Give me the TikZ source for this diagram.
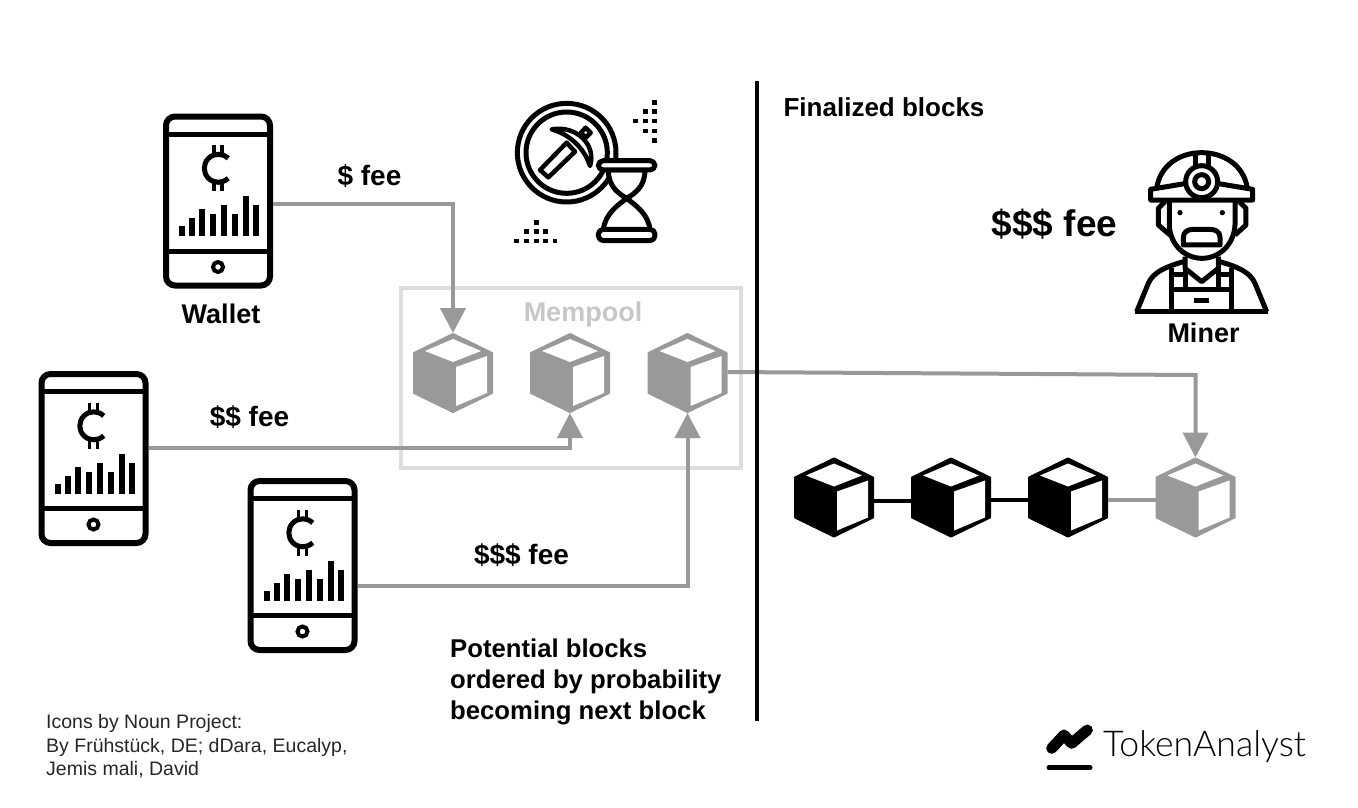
\documentclass[tikz,border=0pt]{standalone}
\usepackage{fontspec}
\setmainfont{Liberation Sans}
\newfontfamily\logofont{Lato Light}
\usepackage{xcolor}
\usetikzlibrary{arrows.meta, positioning, calc}
\definecolor{feegray}{HTML}{999999}
\definecolor{poolgray}{HTML}{DDDDDD}
\tikzstyle{blockbox} = [rectangle, minimum width=80pt, minimum height=80pt, inner sep=0pt, outer sep=0pt]
\tikzstyle{phonebox} = [rectangle, rounded corners=9pt, minimum width=104pt, minimum height=169pt, line width=6pt, draw=black]
\tikzstyle{feeline} = [line width=4pt, draw=feegray]
\tikzstyle{arrow} = [feeline, -{Triangle[width=25pt,length=25pt]}]
\tikzstyle{chainline} = [line width=4pt, draw=black]
\tikzstyle{bigtext} = [font=\fontsize{26}{31}\selectfont\bfseries, inner sep=0pt, align=left]
\tikzstyle{feetext} = [font=\fontsize{28}{31}\selectfont\bfseries, inner sep=0pt]
\tikzstyle{icon} = [line width=5pt, draw=black, line join=round]

% block icon: name, colour, x, y
\newcommand{\blockicon}[4]{
  \node (#1) [blockbox] at (#3,#4) {};
  \begin{scope}[shift={(#3,#4)}]
    \filldraw [#2, line width=2pt, line join=round] (0,-39) -- (39,-20) -- (39,20) -- (0,39) -- (-39,20) -- (-39,-20) -- cycle;
    \fill [white] (0,-34) -- (28,-22) -- (0,-11) -- (-28,-22) -- cycle;
    \fill [white] (3,-6) -- (34,-17) -- (34,20) -- (3,33) -- cycle;
  \end{scope}
}
% phone icon: name, x, y
\newcommand{\phoneicon}[3]{
  \node (#1) [phonebox] at (#2,#3) {};
  \begin{scope}[shift={(#2,#3)}]
    \draw [line width=5pt] (-52,-67) -- (52,-67);
    \draw [line width=5pt] (-52,50) -- (52,50);
    \draw [line width=4pt] (0,66) circle [radius=5];
    \draw [line width=5pt] (10.2,-42.6) arc [start angle=45, end angle=315, radius=14pt];
    \foreach \tx in {-4,4} {
      \draw [line width=3.5pt] (\tx,-56) -- (\tx,-48);
      \draw [line width=3.5pt] (\tx,-18) -- (\tx,-10);
    }
    \foreach \bx/\bh in {-36/10, -26/18, -16/27, -5/22, 6/31, 17/22, 28/40, 38/31}
      \fill (\bx-3,35) rectangle (\bx+3,35-\bh);
  \end{scope}
}

\begin{document}
\begin{tikzpicture}[x=1pt, y=-1pt]
\useasboundingbox (0,0) rectangle (1358,807);

% Mempool frame
\node (pool) [rectangle, draw=poolgray, line width=4pt, minimum width=340pt, minimum height=180pt, inner sep=0pt] at (571,378) {};
\node (poollabel) [bigtext, font=\fontsize{27}{31}\selectfont\bfseries, text=poolgray!90!black] at (583,315) {Mempool};

% Phones
\phoneicon{walletA}{218}{201}
\phoneicon{walletB}{93.5}{458.5}
\phoneicon{walletC}{302.5}{565.5}

% Blocks in mempool
\blockicon{blockA}{feegray}{453}{373}
\blockicon{blockB}{feegray}{570}{373}
\blockicon{blockC}{feegray}{687.5}{373}

% Finalized blocks
\blockicon{chainA}{black}{834}{497.5}
\blockicon{chainB}{black}{951}{497.5}
\blockicon{chainC}{black}{1068}{497.5}
\blockicon{chainD}{feegray}{1195.5}{497.5}

% Arrows
\draw [arrow] ([yshift=-3pt]walletA.east) -| (blockA.north);
\draw [arrow] ([yshift=10.5pt]walletB.east) -| (blockB.south);
\draw [arrow] ([yshift=-20.5pt]walletC.east) -| (blockC.south);
\coordinate (bend) at (1195.5,375);
\draw [arrow] ([yshift=1pt]blockC.east) -- (bend) -- (chainD.north);

% Chain
\draw [chainline] ([yshift=-3pt]chainA.east) -- ([yshift=-3pt]chainB.west);
\draw [chainline] ([yshift=-2pt]chainB.east) -- ([yshift=-2pt]chainC.west);
\draw [feeline] ([yshift=-2.5pt]chainC.east) -- ([yshift=-2.5pt]chainD.west);

% Divider
\coordinate (divtop) at (757,81);
\coordinate (divbot) at (757,721);
\draw [line width=4pt] (divtop) -- (divbot);

% Labels
\node (walletlabel) [bigtext, font=\fontsize{27}{31}\selectfont\bfseries] at (221,314) {Wallet};
\node (minerlabel) [bigtext, font=\fontsize{27}{31}\selectfont\bfseries] at (1203.5,333) {Miner};
\node (feeA) [feetext] at (369.5,176) {\$ fee};
\node (feeB) [feetext] at (249.5,417) {\$\$ fee};
\node (feeC) [feetext] at (521.5,555) {\$\$\$ fee};
\node (feeD) [font=\fontsize{37}{40}\selectfont\bfseries, inner sep=0pt] at (1054.5,224) {\$\$\$ fee};
\node (finalized) [bigtext] at (884,107) {Finalized blocks};
\node (potential) [bigtext, font=\fontsize{25.7}{31}\selectfont\bfseries, anchor=north west] at (450,638.5) {Potential blocks\\ordered by probability\\becoming next block};
\node (credits) [font=\fontsize{19.5}{23.7}\selectfont, inner sep=0pt, align=left, anchor=north west, text=black!85] at (46,714) {Icons by Noun Project:\\By Frühstück, DE; dDara, Eucalyp,\\Jemis mali, David};

% Pick and hourglass
\begin{scope}[shift={(500,90)}, x=0.3333pt, y=-0.3333pt]
  \draw [icon] (200,188) circle [radius=148];
  \draw [icon] (200,188) circle [radius=122];
  \draw [icon, line width=4.5pt] (120,240) -- (145,262) -- (225,185) -- (200,158) -- cycle;
  \draw [icon, line width=4.5pt] (243,128) -- (257,113) -- (272,128) -- (257,143) -- cycle;
  \filldraw [icon, fill=white, line width=4.5pt] (155,118) .. controls (230,105) and (290,165) .. (270,228) .. controls (255,180) and (215,135) .. (155,118) -- cycle;
  \filldraw [icon, fill=white] (325,240) .. controls (325,290) and (355,310) .. (380,325) .. controls (355,345) and (315,370) .. (310,420) -- (450,420) .. controls (445,370) and (405,345) .. (380,325) .. controls (405,310) and (435,290) .. (435,240) -- cycle;
  \filldraw [icon, fill=white, rounded corners=5pt] (295,212) rectangle (465,240);
  \filldraw [icon, fill=white, rounded corners=5pt] (295,418) rectangle (465,452);
  \foreach \dx/\dy in {463/38, 437/65, 463/65, 407/93, 437/93, 463/93, 437/123, 463/123, 463/152, 110/397, 80/425, 110/425, 137/425, 50/453, 80/453, 110/453, 137/453, 165/453}
    \fill (\dx-7,\dy-7) rectangle (\dx+7,\dy+7);
\end{scope}

% Miner
\begin{scope}[shift={(1120,140)}, x=0.3333pt, y=-0.3333pt]
  \draw [icon] (110,145) .. controls (120,75) and (180,38) .. (245,38) .. controls (310,38) and (372,75) .. (382,145);
  \draw [icon] (225,38) -- (225,78);
  \draw [icon] (265,38) -- (265,78);
  % ears and face
  \draw [icon] (135,185) -- (115,205) -- (115,255) -- (150,285);
  \draw [icon] (358,185) -- (378,205) -- (378,255) -- (345,285);
  \draw [icon] (148,178) -- (148,255) .. controls (150,315) and (195,355) .. (246,355) .. controls (297,355) and (342,315) .. (345,255) -- (345,178);
  % brim and lamp
  \filldraw [icon, fill=white] (92,148) -- (200,130) -- (290,130) -- (398,148) -- (398,180) -- (92,180) -- cycle;
  \filldraw [icon, fill=white] (245,125) circle [radius=48];
  \draw [icon] (245,125) circle [radius=21];
  \fill (180,218) circle [radius=8];
  \fill (307,218) circle [radius=8];
  % mustache
  \draw [icon] (190,315) -- (190,292) .. controls (190,275) and (205,268) .. (220,268) -- (270,268) .. controls (285,268) and (300,275) .. (300,292) -- (300,315) -- cycle;
  % collar and body
  \draw [icon] (195,350) -- (195,385) -- (245,425) -- (295,385) -- (295,350);
  \draw [icon] (50,515) -- (85,430) .. controls (100,395) and (140,380) .. (190,365);
  \draw [icon] (440,515) -- (405,430) .. controls (390,395) and (350,380) .. (300,365);
  \draw [icon] (45,515) -- (445,515);
  \draw [icon] (155,515) -- (155,385);
  \draw [icon] (335,515) -- (335,385);
  \draw [icon] (195,385) -- (195,450);
  \draw [icon] (295,385) -- (295,450);
  \draw [icon] (155,450) -- (335,450);
  \draw [icon] (155,405) -- (195,405);
  \draw [icon] (295,405) -- (335,405);
  \fill (222,475) rectangle (267,488);
\end{scope}

% Logo
\begin{scope}[shift={(1030,710)}, x=0.3333pt, y=-0.3333pt]
  \draw [line width=11pt, line cap=round, line join=round] (65,115) -- (102,75) -- (125,100) -- (172,60);
  \draw [line width=5pt, line cap=round] (57,173) -- (180,173);
\end{scope}
\node (logotext) [font=\fontsize{35.6}{40}\logofont, inner sep=0pt, anchor=base west] at (1103,756) {TokenAnalyst};

\end{tikzpicture}
\end{document}
